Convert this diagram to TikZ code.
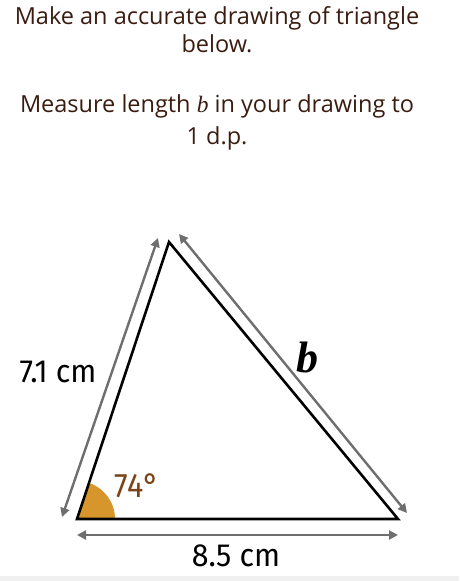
\documentclass[tikz,border=0pt]{standalone}
\usepackage{fontspec}
\setmainfont{Open Sans}
\newfontfamily\labelfont{Fira Sans}
\newfontfamily\serifb{Liberation Serif}
\usetikzlibrary{arrows.meta}
\definecolor{qtext}{HTML}{3A1C10}
\definecolor{anglefill}{HTML}{D6962B}
\definecolor{angletext}{HTML}{7A4418}
\definecolor{arrowgrey}{HTML}{6E6E6E}
\begin{document}
\begin{tikzpicture}[x=1pt,y=-1pt,
  qline/.style={anchor=base,text=qtext,font=\fontsize{23.5}{26}\selectfont,inner sep=0pt},
  side/.style={line width=2.6pt,line join=miter},
  measure/.style={arrowgrey,line width=2.4pt,{Triangle[length=9pt,width=9pt]}-{Triangle[length=9pt,width=9pt]},shorten <=0pt,shorten >=0pt},
  dimlabel/.style={anchor=base,inner sep=0pt,font=\labelfont\fontsize{32}{34}\selectfont}
]
\useasboundingbox (0,0) rectangle (459,581);
\fill[gray!12] (0,576) rectangle (459,581);
% question text
\node[qline] (l1) at (217,24) {Make an accurate drawing of triangle};
\node[qline] (l2) at (217,52) {below.};
\node[qline] (l3) at (217,112) {Measure length {\serifb\itshape b} in your drawing to};
\node[qline] (l4) at (217,144) {1 d.p.};
% triangle
\coordinate (A) at (77,519);
\coordinate (B) at (398,519);
\coordinate (C) at (169,242);
\fill[anglefill] (A) -- ++(38,0) arc[start angle=0,end angle=-71.6,radius=38] -- cycle;
\draw[side] (A) -- (B) -- (C) -- cycle;
% measure arrows
\coordinate (L1) at (158,238);
\coordinate (L2) at (62,517);
\coordinate (R1) at (179,234);
\coordinate (R2) at (407,513);
\coordinate (D1) at (77,535);
\coordinate (D2) at (398,535);
\draw[measure] (L1) -- (L2);
\draw[measure] (R1) -- (R2);
\draw[measure] (D1) -- (D2);
% labels
\node[dimlabel,xscale=0.95] (lc) at (58,382) {7.1 cm};
\node[dimlabel,xscale=0.95] (ldim) at (236,566) {8.5 cm};
\node[dimlabel,xscale=0.9,text=angletext,font=\labelfont\fontsize{34}{36}\selectfont] (lang) at (137,497) {74°};
\node[anchor=base,inner sep=0pt,font=\serifb\bfseries\itshape\fontsize{44}{46}\selectfont] (lb) at (307,372) {b};
\end{tikzpicture}
\end{document}
